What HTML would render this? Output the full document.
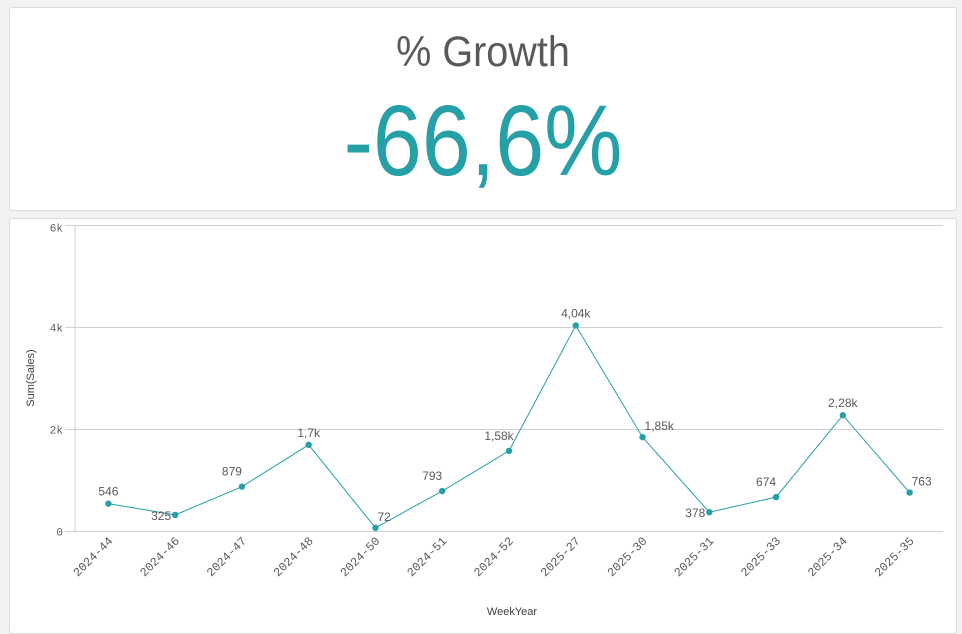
<!DOCTYPE html>
<html><head><meta charset="utf-8"><style>
body{margin:0;width:962px;height:634px;background:#f2f2f2;font-family:"Liberation Sans",sans-serif;overflow:hidden;position:relative}
.card{position:absolute;background:#fff;border:1px solid #dcdcdc;border-radius:3px}
</style></head><body>
<div class="card" style="left:9px;top:7px;width:946px;height:202px">
  <div style="position:absolute;left:0;right:0;top:20px;text-align:center;font-size:43px;color:#595959;transform:scaleX(0.92)">% Growth</div>
  <div style="position:absolute;left:0;right:0;top:73px;text-align:center;font-size:100px;line-height:120px;color:#26a0a7;transform:scaleX(0.88)">-66,6%</div>
</div>
<div class="card" style="left:9px;top:218px;width:946px;height:414px"></div>
<svg id="chart" width="962" height="634" style="position:absolute;left:0;top:0"></svg>
<script>
const categories=["2024-44","2024-46","2024-47","2024-48","2024-50","2024-51","2024-52","2025-27","2025-30","2025-31","2025-33","2025-34","2025-35"];
const sales=[546,325,879,1700,72,793,1580,4040,1850,378,674,2280,763];
const valueLabels=["546","325","879","1,7k","72","793","1,58k","4,04k","1,85k","378","674","2,28k","763"];
const labelSide=["above","left","aboveleft","above","right","aboveleft","aboveleft","above","right","left","aboveleft","above","right"];
const yTicks=[0,2000,4000,6000];
const yTickLabels=["0","2k","4k","6k"];
const NS="http://www.w3.org/2000/svg";
const svg=document.getElementById('chart');
const L=75,R=943,T=225.5,B=531.5,yMax=6000;
const band=(R-L)/categories.length;
const xs=i=>L+band*(i+0.5);
const ys=v=>B-(v/yMax)*(B-T);
function mk(t,a,txt){const e=document.createElementNS(NS,t);for(const k in a)e.setAttribute(k,a[k]);if(txt!=null)e.textContent=txt;svg.appendChild(e);return e;}
yTicks.forEach((v,i)=>{
  const g=mk('line',{x1:L-10,x2:R,y1:ys(v),y2:ys(v),stroke:'#d0d0d0','stroke-width':1});
  
  
  const t=mk('text',{x:63,y:ys(v)+(i==yTicks.length-1?6:4),'text-anchor':'end','font-size':11,fill:'#595959','font-family':'Liberation Mono, monospace'},yTickLabels[i]);
  
  
});
const ax=mk('line',{x1:L,x2:L,y1:T,y2:B,stroke:'#d0d0d0'});


const yt=mk('text',{x:0,y:0,transform:'translate(34,378) rotate(-90)','text-anchor':'middle','font-size':11,fill:'#404040'},'Sum(Sales)');


const xt=mk('text',{x:512,y:615,'text-anchor':'middle','font-size':11,fill:'#404040'},'WeekYear');


categories.forEach((c,i)=>{
  const t=mk('text',{x:0,y:0,transform:`translate(${xs(i)+5},${B+10}) rotate(-45)`,'text-anchor':'end','font-size':12,fill:'#595959','font-family':'Liberation Mono, monospace'},c);
  
  
});
const line=mk('polyline',{points:sales.map((v,i)=>xs(i)+','+ys(v)).join(' '),fill:'none',stroke:'#26a0a7','stroke-width':1});


sales.forEach((v,i)=>{
  const p=mk('circle',{cx:xs(i),cy:ys(v),r:3.2,fill:'#26a0a7'});
  
  
  const s=labelSide[i];
  let x=xs(i),y=ys(v)-8,a='middle';
  if(s==='aboveleft'){x=xs(i)-10;y=ys(v)-11;}
  if(s==='left'){x=xs(i)-4;y=ys(v)+5;a='end';}
  if(s==='right'){x=xs(i)+2;y=ys(v)-7;a='start';}
  const t=mk('text',{x:x,y:y,'text-anchor':a,'font-size':12,fill:'#595959'},valueLabels[i]);
  
  
});
</script>
</body></html>
